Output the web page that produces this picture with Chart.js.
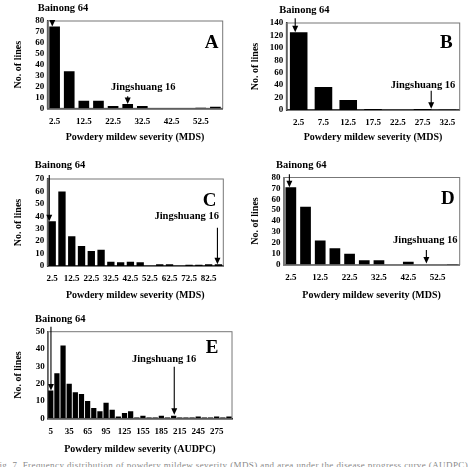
<!DOCTYPE html>
<html>
<head>
<meta charset="utf-8">
<script src="https://cdn.jsdelivr.net/npm/chart.js@4.4.0/dist/chart.umd.min.js"></script>
<style>
  body { margin: 0; background: #fff; width: 474px; height: 467px; overflow: hidden; position: relative; }
  .panel { position: absolute; }
  #caption {
    position: absolute; left: -6px; top: 460px; white-space: nowrap;
    font: 9px "Liberation Serif", serif; color: #8a8a8a; letter-spacing: 0.4px;
  }
</style>
</head>
<body>
<div class="panel" style="left:0;top:0"><canvas id="chartA" width="237" height="146"></canvas></div>
<div class="panel" style="left:237px;top:0"><canvas id="chartB" width="237" height="146"></canvas></div>
<div class="panel" style="left:0;top:150px"><canvas id="chartC" width="237" height="154"></canvas></div>
<div class="panel" style="left:237px;top:150px"><canvas id="chartD" width="237" height="154"></canvas></div>
<div class="panel" style="left:0;top:305px"><canvas id="chartE" width="237" height="153"></canvas></div>
<div id="caption">Fig. 7. Frequency distribution of powdery mildew severity (MDS) and area under the disease progress curve (AUDPC)</div>

<script>
// bins (x categories) and number of lines per bin
const mdsBinsA = ["2.5", "7.5", "12.5", "17.5", "22.5", "27.5", "32.5", "37.5", "42.5", "47.5", "52.5", "57.5"];
const linesA = [75, 34, 7, 7, 2, 4, 2, 0, 0, 0, 0.5, 1.5];

const mdsBinsB = ["2.5", "7.5", "12.5", "17.5", "22.5", "27.5", "32.5"];
const linesB = [125, 37, 16, 1.5, 0, 1.5, 0.5];

const mdsBinsC = ["2.5", "7.5", "12.5", "17.5", "22.5", "27.5", "32.5", "37.5", "42.5",
                  "47.5", "52.5", "57.5", "62.5", "67.5", "72.5", "77.5", "82.5", "87.5"];
const linesC = [36, 60, 24, 16, 12, 13, 3.5, 3, 3.5, 3, 0, 1.5, 1.5, 0, 1, 1, 1.5, 1.5];

const mdsBinsD = ["2.5", "7.5", "12.5", "17.5", "22.5", "27.5", "32.5", "37.5", "42.5", "47.5", "52.5", "57.5"];
const linesD = [71, 53, 22, 15, 10, 4, 4, 0, 2.5, 0, 0, 0.5];

const audpcBinsE = ["5", "15", "25", "35", "45", "55", "65", "75", "85", "95",
                    "105", "115", "125", "135", "145", "155", "165", "175", "185", "195",
                    "205", "215", "225", "235", "245", "255", "265", "275", "285", "295"];
const linesE = [16, 26, 42, 20, 15, 14, 10, 6, 4, 9, 5, 1, 3, 4, 0.5, 1.5, 0.5, 0.5, 1.5, 0.5,
                1.5, 0.5, 0.5, 0.5, 1, 0.5, 0.5, 1, 0.5, 1];

const serif = '"Liberation Serif", "Times New Roman", serif';

// thin frame round the plot area (top and right sides of the box)
const framePlugin = {
    id: "frame",
    beforeDatasetsDraw(chart) {
        const { ctx, chartArea: a } = chart;
        ctx.save();
        ctx.strokeStyle = "#777";
        ctx.lineWidth = 1;
        ctx.strokeRect(a.left, a.top, a.right - a.left, a.bottom - a.top);
        ctx.restore();
    },
};

// arrows, cultivar names and panel letter, placed in data units
const marksPlugin = {
    id: "marks",
    afterDatasetsDraw(chart, args, opts) {
        const { ctx, scales: { x, y } } = chart;
        ctx.save();
        ctx.fillStyle = "#000";
        ctx.strokeStyle = "#000";
        (opts.arrows || []).forEach((a) => {
            const px = x.getPixelForValue(a.at);
            const y0 = y.getPixelForValue(a.from);
            const y1 = y.getPixelForValue(a.to);
            ctx.lineWidth = 1.1;
            ctx.beginPath();
            ctx.moveTo(px, y0);
            ctx.lineTo(px, y1 - 5);
            ctx.stroke();
            ctx.beginPath();
            ctx.moveTo(px - 3, y1 - 6.5);
            ctx.lineTo(px + 3, y1 - 6.5);
            ctx.lineTo(px, y1);
            ctx.closePath();
            ctx.fill();
        });
        ctx.textAlign = "center";
        ctx.textBaseline = "middle";
        ctx.font = "bold 10.5px " + serif;
        (opts.labels || []).forEach((l) => {
            ctx.fillText(l.text, x.getPixelForValue(l.at), y.getPixelForValue(l.y));
        });
        if (opts.letter) {
            ctx.font = "bold 19px " + serif;
            ctx.fillText(opts.letter.text, x.getPixelForValue(opts.letter.at), y.getPixelForValue(opts.letter.y));
        }
        ctx.restore();
    },
};

function makeChart(id, p) {
    return new Chart(document.getElementById(id), {
        type: "bar",
        data: {
            labels: p.labels,
            datasets: [{
                data: p.values,
                backgroundColor: "#000",
                borderWidth: 0,
                categoryPercentage: 1,
                barPercentage: p.barPct,
            }],
        },
        options: {
            responsive: false,
            animation: false,
            layout: { padding: { top: p.padTop, right: p.padRight, left: 0, bottom: 0 } },
            plugins: {
                legend: { display: false },
                tooltip: { enabled: false },
                marks: p.marks,
            },
            scales: {
                x: {
                    grid: { display: false, drawTicks: false },
                    border: { display: true, color: "#000", width: 1.5 },
                    ticks: {
                        autoSkip: false,
                        maxRotation: 0,
                        padding: p.tickPad,
                        color: "#000",
                        font: { family: serif, size: 9, weight: "bold" },
                        callback: function (value, index) {
                            return index % p.tickEvery === 0 ? this.getLabelForValue(value) : "";
                        },
                    },
                    title: {
                        display: true,
                        text: p.xTitle,
                        color: "#000",
                        font: { family: serif, size: 10, weight: "bold" },
                        padding: { top: 0, bottom: 3 },
                    },
                    afterFit(scale) { scale.height = p.xHeight; },
                },
                y: {
                    min: 0,
                    max: p.yMax,
                    grid: { display: false, drawTicks: false },
                    border: { display: true, color: "#000", width: 1.5 },
                    ticks: {
                        stepSize: p.yStep,
                        autoSkip: false,
                        padding: 3,
                        color: "#000",
                        font: { family: serif, size: 9, weight: "bold" },
                    },
                    title: {
                        display: true,
                        text: "No. of lines",
                        color: "#000",
                        font: { family: serif, size: 10, weight: "bold" },
                        padding: { top: 12, bottom: 0 },
                    },
                    afterFit(scale) { scale.width = p.yWidth; },
                },
            },
        },
        plugins: [framePlugin, marksPlugin],
    });
}

makeChart("chartA", {
    labels: mdsBinsA, values: linesA, yMax: 80, yStep: 10, tickEvery: 2, barPct: 0.73,
    xTitle: "Powdery mildew severity (MDS)",
    padTop: 21, padRight: 14.3, yWidth: 47.3, xHeight: 37.7, tickPad: 8,
    marks: {
        arrows: [{ at: -0.16, from: 80, to: 75 }, { at: 5.0, from: 11, to: 4 }],
        labels: [{ text: "Bainong 64", at: 0.57, y: 91.6 }, { text: "Jingshuang 16", at: 6.07, y: 19.2 }],
        letter: { text: "A", at: 10.74, y: 59.5 },
    },
});

makeChart("chartB", {
    labels: mdsBinsB, values: linesB, yMax: 140, yStep: 20, tickEvery: 1, barPct: 0.71,
    xTitle: "Powdery mildew severity (MDS)",
    padTop: 23, padRight: 14.3, yWidth: 49.3, xHeight: 36, tickPad: 7,
    marks: {
        arrows: [{ at: -0.14, from: 147.6, to: 125 }, { at: 5.35, from: 31, to: 2 }],
        labels: [{ text: "Bainong 64", at: 0.23, y: 161 }, { text: "Jingshuang 16", at: 5.02, y: 40 }],
        letter: { text: "B", at: 5.96, y: 107 },
    },
});

makeChart("chartC", {
    labels: mdsBinsC, values: linesC, yMax: 70, yStep: 10, tickEvery: 2, barPct: 0.75,
    xTitle: "Powdery mildew severity (MDS)",
    padTop: 29, padRight: 13.7, yWidth: 47.3, xHeight: 38, tickPad: 7,
    marks: {
        arrows: [{ at: -0.3, from: 73.2, to: 36 }, { at: 16.9, from: 30.8, to: 1.5 }],
        labels: [{ text: "Bainong 64", at: 0.8, y: 80.7 }, { text: "Jingshuang 16", at: 13.75, y: 39.7 }],
        letter: { text: "C", at: 16.1, y: 52.3 },
    },
});

makeChart("chartD", {
    labels: mdsBinsD, values: linesD, yMax: 80, yStep: 10, tickEvery: 2, barPct: 0.73,
    xTitle: "Powdery mildew severity (MDS)",
    padTop: 27.5, padRight: 14.3, yWidth: 46.5, xHeight: 39.5, tickPad: 8,
    marks: {
        arrows: [{ at: -0.1, from: 83, to: 71 }, { at: 9.23, from: 13.3, to: 1 }],
        labels: [{ text: "Bainong 64", at: 0.71, y: 91.5 }, { text: "Jingshuang 16", at: 9.16, y: 22.5 }],
        letter: { text: "D", at: 10.7, y: 60 },
    },
});

makeChart("chartE", {
    labels: audpcBinsE, values: linesE, yMax: 50, yStep: 10, tickEvery: 3, barPct: 0.85,
    xTitle: "Powdery mildew severity (AUDPC)",
    padTop: 26.7, padRight: 3.7, yWidth: 47.7, xHeight: 39.7, tickPad: 8,
    marks: {
        arrows: [{ at: 0.03, from: 52.9, to: 16 }, { at: 20.1, from: 29.8, to: 2 }],
        labels: [{ text: "Bainong 64", at: 1.54, y: 57.3 }, { text: "Jingshuang 16", at: 18.45, y: 34 }],
        letter: { text: "E", at: 26.25, y: 40.4 },
    },
});
</script>
</body>
</html>
